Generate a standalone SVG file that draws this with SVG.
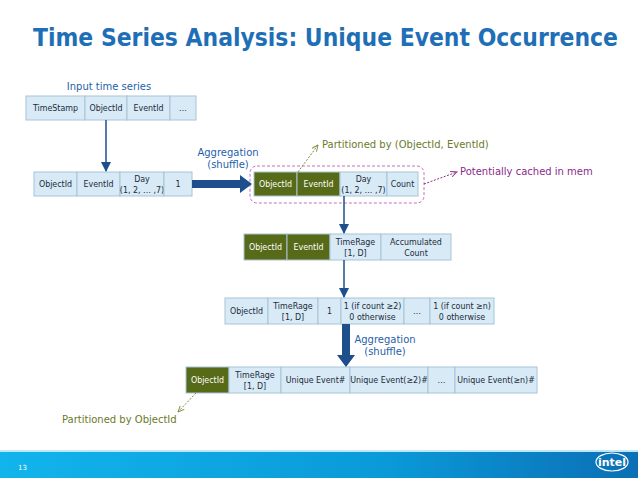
<svg xmlns="http://www.w3.org/2000/svg" width="638" height="478" viewBox="0 0 638 478">
<defs>
<linearGradient id="ft" x1="0" x2="1" y1="0" y2="0"><stop offset="0" stop-color="#12b4ec"/><stop offset="0.6" stop-color="#0a9ad8"/><stop offset="1" stop-color="#0b6fb5"/></linearGradient>
<marker id="ah" viewBox="0 0 10 10" refX="9" refY="5" markerWidth="7" markerHeight="7" orient="auto"><path d="M0,0L10,5L0,10z" fill="#1d4f8c"/></marker>
<marker id="ao" viewBox="0 0 10 10" refX="9" refY="5" markerWidth="7" markerHeight="7" orient="auto"><path d="M0,1L9,5L0,9" fill="none" stroke="#7d8a3d" stroke-width="1.3"/></marker>
<marker id="ap" viewBox="0 0 10 10" refX="9" refY="5" markerWidth="7" markerHeight="7" orient="auto"><path d="M0,1L9,5L0,9" fill="none" stroke="#8b2a8b" stroke-width="1.3"/></marker>
</defs>
<style>
.c{fill:#d7eaf6;stroke:#a8c4d6;stroke-width:1}
.g{fill:#566a17;stroke:#a8c4d6;stroke-width:1}
.t{font-family:"DejaVu Sans Condensed","DejaVu Sans",sans-serif;font-size:8.8px;fill:#1b2a3a;text-anchor:middle}
.w{fill:#ffffff}
.lbl{font-family:"DejaVu Sans",sans-serif;font-size:10px;fill:#1f5fa8;text-anchor:middle}
.ol{font-family:"DejaVu Sans",sans-serif;font-size:10px;fill:#6b7a2a}
</style>
<rect width="638" height="478" fill="#fff"/>
<text x="33" y="46" font-family="DejaVu Sans,sans-serif" font-weight="bold" font-size="24" fill="#1f6fb6" textLength="585" lengthAdjust="spacingAndGlyphs">Time Series Analysis: Unique Event Occurrence</text>
<text class="lbl" x="109" y="90" font-size="11">Input time series</text>

<g id="row1">
<rect class="c" x="26" y="96" width="59" height="24"/><text class="t" x="55.5" y="111">TimeStamp</text>
<rect class="c" x="85" y="96" width="42" height="24"/><text class="t" x="106" y="111">ObjectId</text>
<rect class="c" x="127" y="96" width="43" height="24"/><text class="t" x="148.5" y="111">EventId</text>
<rect class="c" x="170" y="96" width="26" height="24"/><text class="t" x="183" y="111">…</text>
</g>
<g id="row2">
<rect class="c" x="34" y="172" width="43" height="24"/><text class="t" x="55.5" y="187">ObjectId</text>
<rect class="c" x="77" y="172" width="43" height="24"/><text class="t" x="98.5" y="187">EventId</text>
<rect class="c" x="120" y="172" width="44" height="24"/><text class="t" x="142" y="182">Day</text><text class="t" x="142" y="193">(1, 2, … ,7)</text>
<rect class="c" x="164" y="172" width="28" height="24"/><text class="t" x="178" y="187">1</text>
</g>
<g id="row3">
<rect x="250" y="166" width="174" height="37" rx="7" fill="none" stroke="#c070c0" stroke-dasharray="3,2"/>
<rect class="g" x="254" y="172" width="43" height="24"/><text class="t w" x="275.5" y="187">ObjectId</text>
<rect class="g" x="297" y="172" width="43" height="24"/><text class="t w" x="318.5" y="187">EventId</text>
<rect class="c" x="340" y="172" width="47" height="24"/><text class="t" x="363.5" y="182">Day</text><text class="t" x="363.5" y="193">(1, 2, … ,7)</text>
<rect class="c" x="387" y="172" width="31" height="24"/><text class="t" x="402.5" y="187">Count</text>
</g>
<g id="row4">
<rect class="g" x="244" y="234" width="43" height="26"/><text class="t w" x="265.5" y="250">ObjectId</text>
<rect class="g" x="287" y="234" width="43" height="26"/><text class="t w" x="308.5" y="250">EventId</text>
<rect class="c" x="330" y="234" width="51" height="26"/><text class="t" x="355.5" y="245">TimeRage</text><text class="t" x="355.5" y="256">[1, D]</text>
<rect class="c" x="381" y="234" width="70" height="26"/><text class="t" x="416" y="245">Accumulated</text><text class="t" x="416" y="256">Count</text>
</g>
<g id="row5">
<rect class="c" x="225" y="298" width="43" height="26"/><text class="t" x="246.5" y="314">ObjectId</text>
<rect class="c" x="268" y="298" width="50" height="26"/><text class="t" x="293" y="309">TimeRage</text><text class="t" x="293" y="320">[1, D]</text>
<rect class="c" x="318" y="298" width="23" height="26"/><text class="t" x="329.5" y="314">1</text>
<rect class="c" x="341" y="298" width="63" height="26"/><text class="t" x="372.5" y="309">1 (if count ≥2)</text><text class="t" x="372.5" y="320">0 otherwise</text>
<rect class="c" x="404" y="298" width="26" height="26"/><text class="t" x="417" y="314">…</text>
<rect class="c" x="430" y="298" width="64" height="26"/><text class="t" x="462" y="309">1 (if count ≥n)</text><text class="t" x="462" y="320">0 otherwise</text>
</g>
<g id="row6">
<rect class="g" x="186" y="367" width="43" height="26"/><text class="t w" x="207.5" y="383">ObjectId</text>
<rect class="c" x="229" y="367" width="52" height="26"/><text class="t" x="255" y="378">TimeRage</text><text class="t" x="255" y="389">[1, D]</text>
<rect class="c" x="281" y="367" width="69" height="26"/><text class="t" x="315.5" y="383">Unique Event#</text>
<rect class="c" x="350" y="367" width="78" height="26"/><text class="t" x="389" y="383">Unique Event(≥2)#</text>
<rect class="c" x="428" y="367" width="27" height="26"/><text class="t" x="441.5" y="383">…</text>
<rect class="c" x="455" y="367" width="82" height="26"/><text class="t" x="496" y="383">Unique Event(≥n)#</text>
</g>
<g id="connectors">
<line x1="106" y1="120" x2="106" y2="171" stroke="#1d4f8c" stroke-width="1.5" marker-end="url(#ah)"/>
<path d="M192,180H240V175L252,184L240,193V188H192z" fill="#1d4f8c"/>
<line x1="344" y1="196" x2="344" y2="233" stroke="#1d4f8c" stroke-width="1.5" marker-end="url(#ah)"/>
<line x1="344" y1="260" x2="344" y2="297" stroke="#1d4f8c" stroke-width="1.5" marker-end="url(#ah)"/>
<path d="M342,324H350V355H355L346,367L337,355H342z" fill="#1d4f8c"/>
<line x1="298" y1="172" x2="318" y2="145" stroke="#7d8a3d" stroke-dasharray="2,1.5" marker-end="url(#ao)"/>
<line x1="424" y1="184" x2="457" y2="172" stroke="#8b2a8b" stroke-dasharray="2,1.5" marker-end="url(#ap)"/>
<line x1="196" y1="393" x2="178" y2="412" stroke="#7d8a3d" stroke-dasharray="2,1.5" marker-end="url(#ao)"/>
</g>
<text class="lbl" x="228" y="156">Aggregation</text><text class="lbl" x="228" y="168">(shuffle)</text>
<text class="lbl" x="385" y="343">Aggregation</text><text class="lbl" x="385" y="355">(shuffle)</text>
<text class="ol" x="322" y="148">Partitioned by (ObjectId, EventId)</text>
<text class="ol" x="460" y="175" style="fill:#8b2a8b">Potentially cached in mem</text>
<text class="ol" x="62" y="423">Partitioned by ObjectId</text>
<rect x="0" y="452" width="638" height="26" fill="url(#ft)"/>
<rect x="0" y="450" width="638" height="2" fill="#bfe6f7"/>
<text x="18" y="470" font-family="DejaVu Sans,sans-serif" font-size="7" fill="#fff">13</text>
<ellipse cx="612" cy="462" rx="16" ry="9" fill="none" stroke="#fff" stroke-width="1.2"/>
<text x="612" y="466" font-family="DejaVu Sans,sans-serif" font-weight="bold" font-size="11" fill="#fff" text-anchor="middle">intel</text>
</svg>
